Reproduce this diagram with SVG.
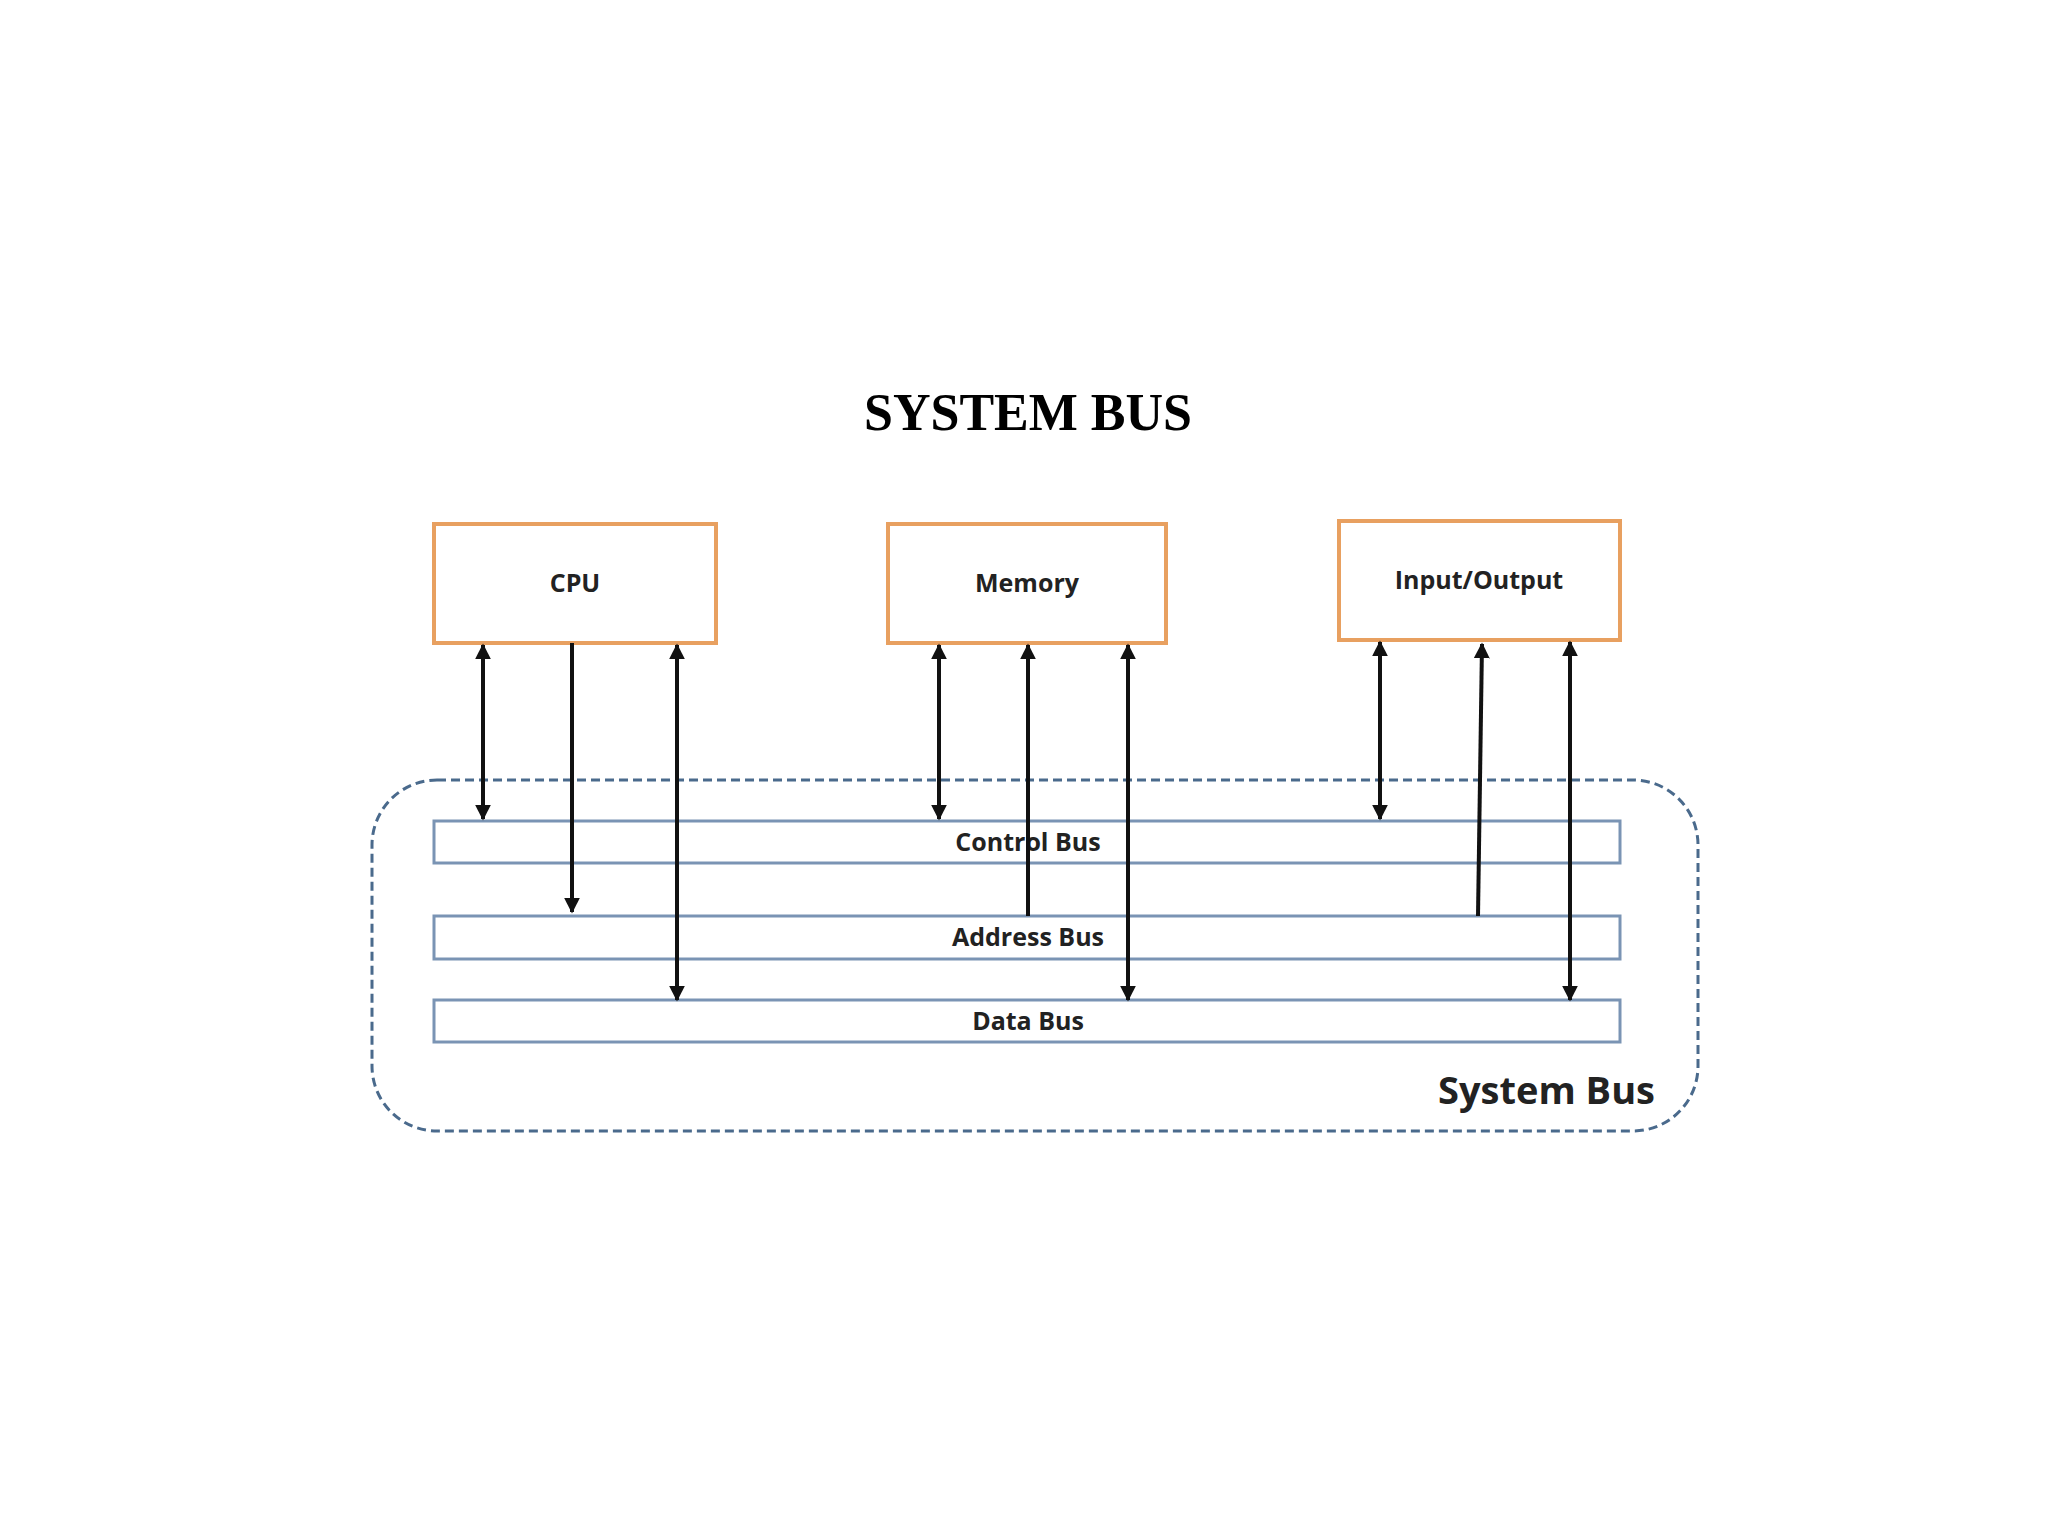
<svg xmlns="http://www.w3.org/2000/svg" width="2048" height="1536" viewBox="0 0 2048 1536">
<style>
.node{fill:#fff;stroke:#e8a060;stroke-width:4}
.bus{fill:#fff;stroke:#7a94b4;stroke-width:3}
.lbl{font-family:"Open Sans","Liberation Sans",sans-serif;font-weight:bold;font-size:25px;fill:#222;text-anchor:middle}
.ln{stroke:#111;stroke-width:4;fill:none}
</style>
<defs>
<marker id="ah" viewBox="0 0 10 10" refX="9" refY="5" markerWidth="4" markerHeight="4" orient="auto-start-reverse"><path d="M0,0 L10,5 L0,10 z" fill="#111"/></marker>
</defs>
<rect width="2048" height="1536" fill="#fff"/>
<text x="1028" y="430" font-family="Liberation Serif,serif" font-weight="bold" font-size="52" text-anchor="middle" fill="#000">SYSTEM BUS</text>
<g id="system-bus">
<rect x="372" y="780" width="1326" height="351" rx="65" fill="none" stroke="#4a6a8c" stroke-width="3" stroke-dasharray="9,5"/>
<text x="1655" y="1104" font-family="Open Sans,Liberation Sans,sans-serif" font-weight="bold" font-size="38" text-anchor="end" fill="#222">System Bus</text>
</g>
<g id="control-bus"><rect class="bus" x="434" y="821" width="1186" height="42"/><text class="lbl" x="1028" y="851">Control Bus</text></g>
<g id="address-bus"><rect class="bus" x="434" y="916" width="1186" height="43"/><text class="lbl" x="1028" y="946">Address Bus</text></g>
<g id="data-bus"><rect class="bus" x="434" y="1000" width="1186" height="42"/><text class="lbl" x="1028" y="1030">Data Bus</text></g>
<g id="cpu"><rect class="node" x="434" y="524" width="282" height="119"/><text class="lbl" x="575" y="592">CPU</text></g>
<g id="memory"><rect class="node" x="888" y="524" width="278" height="119"/><text class="lbl" x="1027" y="592">Memory</text></g>
<g id="io"><rect class="node" x="1339" y="521" width="281" height="119"/><text class="lbl" x="1479" y="589">Input/Output</text></g>
<g id="connectors">
<line class="ln" x1="483" y1="645" x2="483" y2="819" marker-start="url(#ah)" marker-end="url(#ah)"/>
<line class="ln" x1="572" y1="643" x2="572" y2="912" marker-end="url(#ah)"/>
<line class="ln" x1="677" y1="645" x2="677" y2="1000" marker-start="url(#ah)" marker-end="url(#ah)"/>
<line class="ln" x1="939" y1="645" x2="939" y2="819" marker-start="url(#ah)" marker-end="url(#ah)"/>
<line class="ln" x1="1028" y1="916" x2="1028" y2="645" marker-end="url(#ah)"/>
<line class="ln" x1="1128" y1="645" x2="1128" y2="1000" marker-start="url(#ah)" marker-end="url(#ah)"/>
<line class="ln" x1="1380" y1="642" x2="1380" y2="819" marker-start="url(#ah)" marker-end="url(#ah)"/>
<line class="ln" x1="1478" y1="916" x2="1482" y2="644" marker-end="url(#ah)"/>
<line class="ln" x1="1570" y1="642" x2="1570" y2="1000" marker-start="url(#ah)" marker-end="url(#ah)"/>
</g>
</svg>
